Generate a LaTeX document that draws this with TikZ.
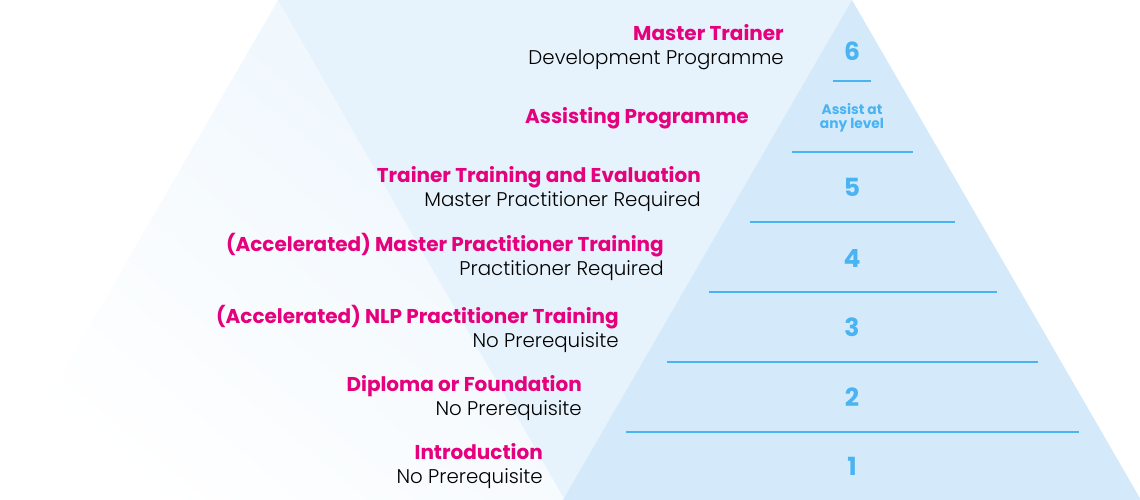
\documentclass[tikz,border=0pt]{standalone}
\usepackage{fontspec}
\setmainfont{Poppins}
\newfontfamily\poplight{Poppins Light}
\newfontfamily\popbold{Poppins Bold}
\definecolor{pinkc}{HTML}{E5007D}
\definecolor{bluec}{HTML}{4AB3F1}
\definecolor{bandc}{HTML}{E6F3FC}
\definecolor{tric}{HTML}{D4EAFA}
\definecolor{leftc}{HTML}{EDF6FD}
\begin{document}
\begin{tikzpicture}[x=1pt,y=-1pt,
  title/.style={anchor=base east,inner sep=0pt,font=\popbold\fontsize{20}{20}\selectfont,text=pinkc},
  sub/.style={anchor=base east,inner sep=0pt,font=\poplight\fontsize{19.8}{20}\selectfont,text=black},
  num/.style={anchor=base,inner sep=0pt,font=\popbold\fontsize{25}{25}\selectfont,text=bluec},
  sep/.style={draw=bluec,line width=2.2pt}]
\useasboundingbox (0,0) rectangle (1140,500);
% left triangle with gradient
\begin{scope}
\clip (278,0) -- (567,500) -- (-11,500) -- cycle;
\shade[top color=leftc,bottom color=white,shading angle=-40] (-11,0) rectangle (567,500);
\end{scope}
% middle inverted band
\fill[bandc] (278,0) -- (852,0) -- (565,500) -- cycle;
% right triangle
\fill[tric] (852,0) -- (1141,500) -- (563,500) -- cycle;
% separators
\coordinate (l6a) at (833,81);  \coordinate (l6b) at (871,81);
\coordinate (l5a) at (792,152); \coordinate (l5b) at (913,152);
\coordinate (l4a) at (750,222); \coordinate (l4b) at (955,222);
\coordinate (l3a) at (709,292); \coordinate (l3b) at (997,292);
\coordinate (l2a) at (667,362); \coordinate (l2b) at (1038,362);
\coordinate (l1a) at (626,432); \coordinate (l1b) at (1079,432);
\draw[sep] (l6a) -- (l6b);
\draw[sep] (l5a) -- (l5b);
\draw[sep] (l4a) -- (l4b);
\draw[sep] (l3a) -- (l3b);
\draw[sep] (l2a) -- (l2b);
\draw[sep] (l1a) -- (l1b);
% numbers
\node[num] (n6) at (852,61) {6};
\node[anchor=center,inner sep=0pt,align=center,text=bluec,font=\popbold\fontsize{13.8}{14}\selectfont] (na) at (852,118) {Assist at\\any level};
\node[num] (n5) at (852,196) {5};
\node[num] (n4) at (852,267) {4};
\node[num] (n3) at (852,336) {3};
\node[num] (n2) at (852,406) {2};
\node[num] (n1) at (852,475) {1};
% texts
\node[title] (t6) at (784,41) {Master Trainer};
\node[sub] (s6) at (784,65) {Development Programme};
\node[title] (ta) at (749,124) {Assisting Programme};
\node[title] (t5) at (701,182) {Trainer Training and Evaluation};
\node[sub] (s5) at (701,206) {Master Practitioner Required};
\node[title] (t4) at (664,251) {(Accelerated) Master Practitioner Training};
\node[sub] (s4) at (664,275) {Practitioner Required};
\node[title] (t3) at (619,323) {(Accelerated) NLP Practitioner Training};
\node[sub] (s3) at (619,347) {No Prerequisite};
\node[title] (t2) at (582,391) {Diploma or Foundation};
\node[sub] (s2) at (582,415) {No Prerequisite};
\node[title] (t1) at (543,459) {Introduction};
\node[sub] (s1) at (543,483) {No Prerequisite};
\end{tikzpicture}
\end{document}
